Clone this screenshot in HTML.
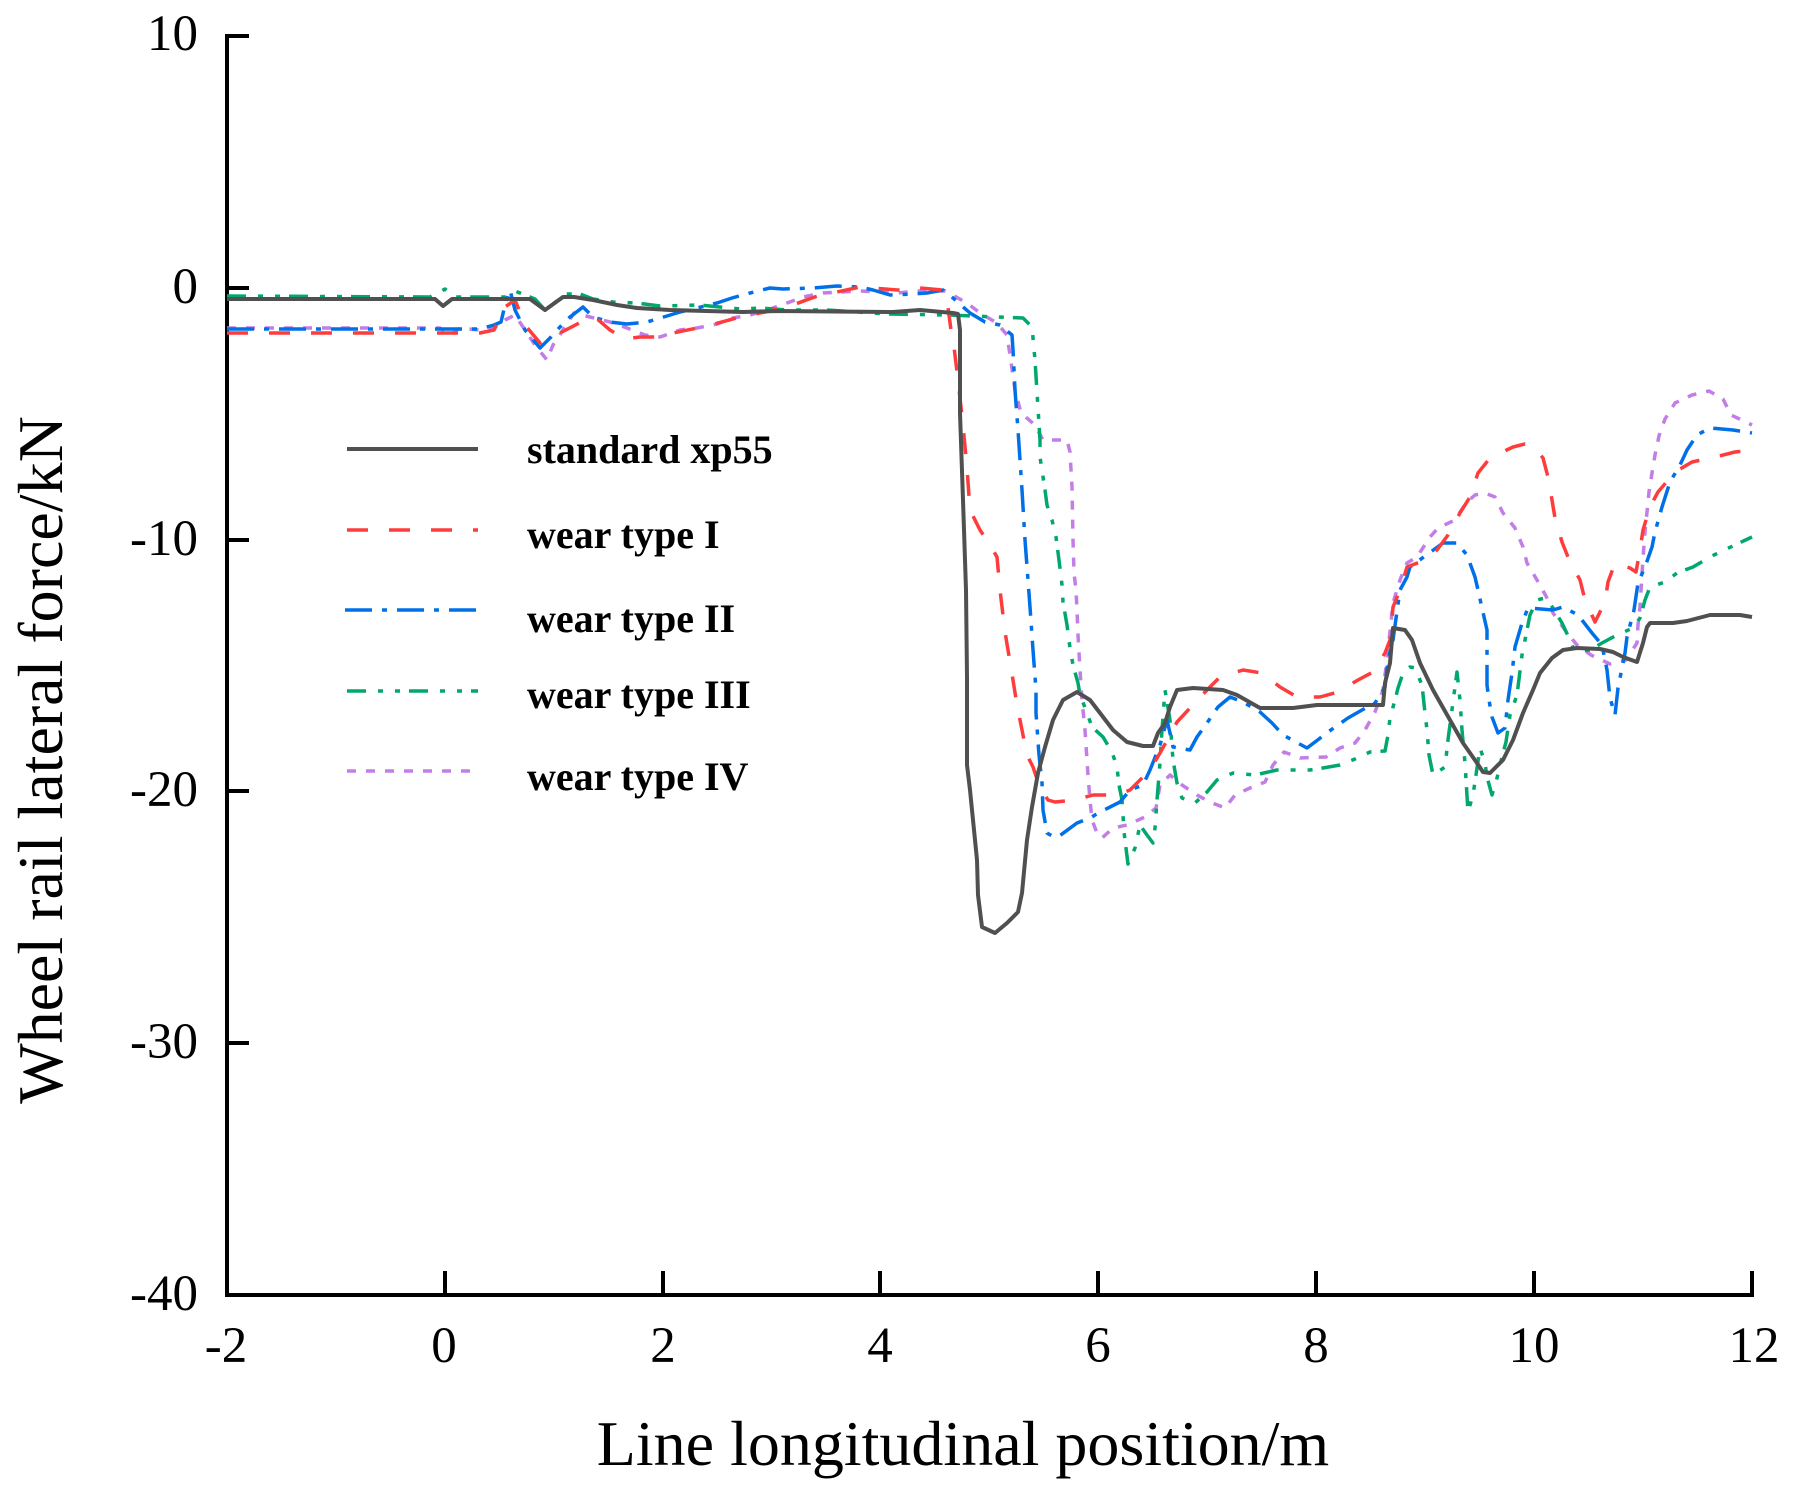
<!DOCTYPE html>
<html><head><meta charset="utf-8"><style>
html,body{margin:0;padding:0;background:#fff;}
svg{display:block;}
text{font-family:"Liberation Serif","Times New Roman",serif;fill:#000;}
</style></head><body>
<svg width="1800" height="1502" viewBox="0 0 1800 1502" xmlns="http://www.w3.org/2000/svg">
<rect width="1800" height="1502" fill="#fff"/>
<!-- axes -->
<g stroke="#000" stroke-width="4" fill="none">
<line x1="227" y1="34" x2="227" y2="1297"/>
<line x1="225" y1="1295" x2="1754" y2="1295"/>
<line x1="227" y1="36" x2="249" y2="36"/>
<line x1="227" y1="288" x2="249" y2="288"/>
<line x1="227" y1="540" x2="249" y2="540"/>
<line x1="227" y1="791" x2="249" y2="791"/>
<line x1="227" y1="1043" x2="249" y2="1043"/>
<line x1="445" y1="1295" x2="445" y2="1271"/>
<line x1="663" y1="1295" x2="663" y2="1271"/>
<line x1="880" y1="1295" x2="880" y2="1271"/>
<line x1="1098" y1="1295" x2="1098" y2="1271"/>
<line x1="1316" y1="1295" x2="1316" y2="1271"/>
<line x1="1534" y1="1295" x2="1534" y2="1271"/>
<line x1="1752" y1="1295" x2="1752" y2="1271"/>
</g>
<!-- y tick labels -->
<g font-size="51" text-anchor="end">
<text x="198" y="50">10</text>
<text x="198" y="303">0</text>
<text x="198" y="555">-10</text>
<text x="198" y="806">-20</text>
<text x="198" y="1058">-30</text>
<text x="198" y="1310">-40</text>
</g>
<!-- x tick labels -->
<g font-size="51" text-anchor="middle">
<text x="226" y="1362">-2</text>
<text x="444" y="1362">0</text>
<text x="663" y="1362">2</text>
<text x="880" y="1362">4</text>
<text x="1098" y="1362">6</text>
<text x="1316" y="1362">8</text>
<text x="1534" y="1362">10</text>
<text x="1754" y="1362">12</text>
</g>
<!-- axis titles -->
<text x="963" y="1465" font-size="64" text-anchor="middle">Line longitudinal position/m</text>
<text transform="translate(62,760) rotate(-90)" font-size="64" text-anchor="middle">Wheel rail lateral force/kN</text>

<!-- series -->
<g fill="none" stroke-linejoin="round">
<!-- purple wear type IV -->
<polyline stroke="#c27ee6" stroke-width="3.5" stroke-dasharray="9 10" points="227,328 440,328 450,335 460,328 480,330 494,328 505,320 515,315 525,330 535,345 547,360 553,345 563,330 574,313 590,317 610,322 627,328 645,335 660,337 680,330 697,328 717,324 733,318 750,315 770,309 787,303 803,297 823,293 860,291 880,292 897,293 917,291 945,291 967,303 980,313 997,323 1007,335 1010,355 1015,390 1021,413 1035,425 1043,440 1067,440 1070,452 1072,487 1073,540 1074,573 1076,590 1077,610 1078,635 1080,670 1082,700 1085,730 1088,775 1090,800 1092,820 1097,833 1102,838 1113,828 1127,825 1145,817 1156,808 1160,785 1170,775 1182,785 1197,795 1210,802 1225,808 1235,795 1250,788 1265,782 1273,765 1284,752 1300,758 1326,757 1340,748 1355,743 1365,730 1375,712 1383,690 1387,660 1393,603 1400,580 1407,563 1417,557 1430,537 1438,528 1455,520 1466,503 1475,495 1485,493 1495,497 1503,513 1515,528 1523,547 1527,563 1537,580 1546,596 1553,613 1565,630 1577,645 1591,655 1610,664 1626,660 1637,643 1638,625 1640,607 1641,590 1643,558 1645,532 1647,512 1649,492 1652,473 1655,455 1659,436 1665,419 1675,403 1692,395 1709,391 1723,399 1731,415 1748,423 1752,425"/>
<!-- green wear type III -->
<polyline stroke="#00a86b" stroke-width="3.5" stroke-dasharray="19 12 5 12 5 9" points="227,296 430,297 445,289 455,297 505,297 515,291 535,299 545,310 566,294 580,294 593,299 613,302 637,303 660,306 700,305 740,309 760,308 787,310 827,310 887,314 947,315 1023,318 1032,327 1035,360 1037,392 1040,440 1040,457 1045,490 1047,505 1052,520 1056,537 1059,560 1062,585 1063,602 1067,625 1070,648 1073,665 1078,683 1080,695 1086,710 1092,727 1103,737 1112,752 1117,767 1119,785 1122,800 1123,815 1124,832 1128,864 1135,848 1140,825 1147,835 1153,843 1155,828 1157,800 1160,763 1162,730 1165,690 1170,720 1173,760 1177,783 1182,798 1195,803 1207,792 1217,780 1233,773 1255,775 1277,770 1310,770 1323,768 1340,765 1355,759 1370,752 1385,751 1388,735 1390,718 1395,700 1398,688 1403,673 1410,667 1415,668 1422,685 1425,713 1427,730 1429,755 1433,775 1445,767 1448,740 1453,702 1457,672 1460,700 1462,730 1465,763 1468,812 1473,795 1480,748 1485,763 1487,777 1492,795 1497,778 1502,757 1506,742 1510,715 1517,695 1522,655 1527,630 1530,615 1537,600 1545,598 1553,608 1562,623 1570,640 1575,652 1590,650 1602,643 1617,635 1633,628 1640,618 1645,600 1650,587 1665,582 1677,573 1693,567 1710,557 1720,552 1735,545 1752,537"/>
<!-- blue wear type II -->
<polyline stroke="#0070e8" stroke-width="3.5" stroke-dasharray="27 10 5 10" points="227,329 480,329 494,325 501,322 505,305 510,290 515,310 525,330 540,348 551,337 560,327 570,317 583,307 593,317 610,322 627,324 647,322 667,316 680,312 697,308 717,303 732,298 750,293 770,288 783,289 813,288 837,286 860,287 873,290 890,295 913,294 927,293 943,290 953,298 970,313 985,322 1000,325 1012,335 1013,350 1015,390 1018,430 1020,460 1022,490 1025,540 1028,580 1030,607 1033,650 1036,690 1036,713 1039,755 1042,783 1043,810 1047,833 1052,836 1058,837 1077,823 1090,818 1100,812 1120,802 1130,790 1143,785 1150,770 1160,745 1167,720 1170,733 1173,747 1190,750 1197,737 1207,723 1218,707 1230,697 1243,702 1260,712 1272,723 1283,735 1307,748 1315,742 1328,732 1348,718 1362,710 1375,703 1385,687 1388,660 1393,640 1400,590 1407,577 1410,567 1443,543 1457,543 1467,555 1475,577 1478,590 1482,608 1487,630 1487,663 1487,685 1489,700 1492,717 1498,733 1505,728 1508,700 1512,673 1515,647 1522,623 1528,608 1553,610 1563,607 1578,615 1592,633 1602,645 1607,670 1610,698 1615,715 1618,688 1622,668 1625,653 1627,637 1634,610 1638,583 1645,567 1652,547 1655,532 1662,507 1670,482 1680,465 1687,450 1697,435 1710,428 1733,430 1752,433"/>
<!-- red wear type I -->
<polyline stroke="#ff3c3c" stroke-width="3.5" stroke-dasharray="21 21" points="227,333 480,333 494,330 505,307 515,300 525,325 540,343 560,333 585,320 595,317 610,330 625,339 640,337 660,337 673,333 707,326 740,317 765,312 790,306 820,295 837,292 860,287 910,291 920,288 943,290 947,300 951,330 954,347 958,380 963,425 967,468 970,510 980,530 990,545 997,557 1000,590 1005,632 1012,674 1017,705 1022,730 1027,755 1033,767 1040,788 1048,800 1055,802 1075,800 1093,795 1117,795 1130,790 1150,770 1160,753 1170,735 1177,722 1190,708 1207,690 1220,677 1243,670 1262,673 1280,687 1297,697 1320,697 1338,692 1358,680 1373,672 1385,653 1390,640 1393,607 1400,590 1407,567 1420,562 1437,550 1448,535 1460,513 1470,497 1478,473 1490,458 1513,447 1525,444 1532,445 1543,458 1548,477 1552,500 1555,518 1562,542 1568,557 1580,580 1585,600 1595,622 1605,602 1608,582 1615,563 1630,568 1636,572 1640,550 1643,530 1650,507 1658,492 1675,472 1692,462 1715,457 1735,452 1752,450"/>
<!-- black standard -->
<polyline stroke="#505050" stroke-width="4" points="227,299 435,299 443,306 452,299 530,299 545,310 563,297 574,297 593,300 617,305 637,308 670,310 743,312 777,311 893,312 920,310 953,313 958,314 960,330 960,413 963,500 966,590 967,677 967,765 970,790 973,820 977,860 978,895 982,927 995,933 1007,923 1018,912 1022,893 1027,840 1032,807 1038,773 1045,747 1053,720 1063,700 1077,692 1090,700 1100,713 1113,730 1127,742 1143,746 1153,746 1158,733 1165,723 1170,707 1177,690 1193,688 1223,690 1237,695 1260,708 1293,708 1317,705 1383,705 1385,683 1390,663 1393,628 1405,630 1412,640 1420,663 1433,690 1450,720 1463,743 1477,763 1483,772 1490,773 1503,760 1513,740 1523,713 1533,690 1540,673 1552,658 1563,650 1577,648 1600,649 1613,652 1623,657 1637,662 1643,643 1647,627 1650,623 1673,623 1687,621 1710,615 1740,615 1752,617"/>
</g>

<!-- legend -->
<g fill="none">
<line x1="347" y1="449" x2="478" y2="449" stroke="#505050" stroke-width="4"/>
<line x1="347" y1="530" x2="478" y2="530" stroke="#ff3c3c" stroke-width="3.5" stroke-dasharray="21 21"/>
<line x1="345" y1="610" x2="478" y2="610" stroke="#0070e8" stroke-width="3.5" stroke-dasharray="27 10 5 10"/>
<line x1="347" y1="691" x2="478" y2="691" stroke="#00a86b" stroke-width="3.5" stroke-dasharray="19 12 5 12 5 9"/>
<line x1="347" y1="771" x2="470" y2="771" stroke="#c27ee6" stroke-width="3.5" stroke-dasharray="9 10"/>
</g>
<g font-size="40" font-weight="bold">
<text x="527" y="463">standard xp55</text>
<text x="527" y="548">wear type I</text>
<text x="527" y="632">wear type II</text>
<text x="527" y="708">wear type III</text>
<text x="527" y="790">wear type IV</text>
</g>
</svg>
</body></html>
